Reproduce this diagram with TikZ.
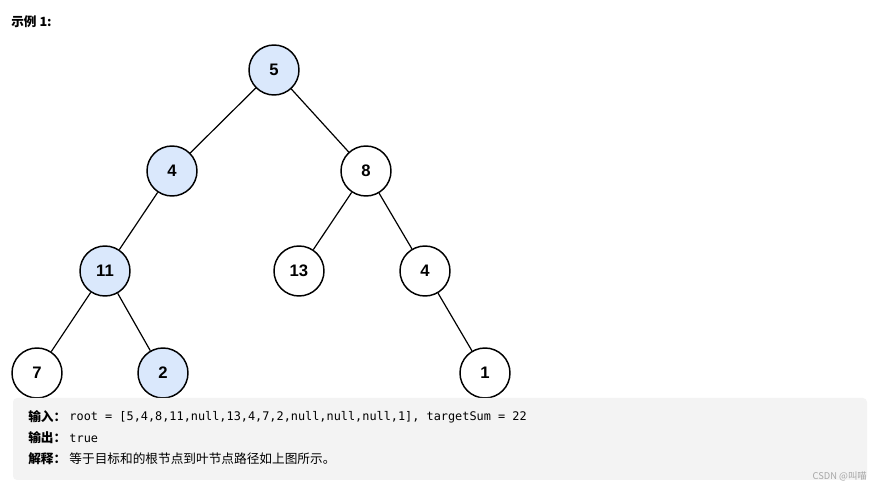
\documentclass[tikz,border=0pt]{standalone}
\usepackage{fontspec}
\setmainfont{Liberation Sans}
\setmonofont{DejaVu Sans Mono}
\newfontfamily\cjk{Noto Sans CJK SC}
\begin{document}
\begin{tikzpicture}[x=0.75pt,y=-0.75pt,
  tn/.style={circle,draw=black,line width=1.1pt,minimum size=37.5pt,inner sep=0pt,font=\bfseries\fontsize{12.5}{14}\selectfont,fill=white},
  hl/.style={tn,fill={rgb,255:red,218;green,232;blue,252}},
  ed/.style={line width=0.9pt},
  lab/.style={anchor=west,inner sep=0pt,font=\cjk\bfseries\fontsize{9.5}{11}\selectfont},
  code/.style={anchor=west,inner sep=0pt,font=\ttfamily\fontsize{8.9}{10}\selectfont}]
\useasboundingbox (0,0) rectangle (886,491);
\node[anchor=west,inner sep=0pt,font=\cjk\bfseries\fontsize{9.5}{11}\selectfont] (t) at (11,22) {示例 1:};
\node[hl] (a) at (274,70) {5};
\node[hl] (b) at (172,171) {4};
\node[tn] (c) at (366,171) {8};
\node[hl] (d) at (105,271) {11};
\node[tn] (e) at (299,271) {13};
\node[tn] (f) at (425,271) {4};
\node[tn] (g) at (37,373) {7};
\node[hl] (h) at (163,373) {2};
\node[tn] (i) at (485,373) {1};
\foreach \u/\v in {a/b,a/c,b/d,c/e,c/f,d/g,d/h,f/i} \draw[ed] (\u) -- (\v);
\fill[rounded corners=3pt,fill={rgb,255:red,243;green,243;blue,243}] (13,398) rectangle (867,480);
\node[lab] (l1) at (28,417) {输入：};
\node[code] (c1) at ([xshift=2pt]l1.east) {root = [5,4,8,11,null,13,4,7,2,null,null,null,1], targetSum = 22};
\node[lab] (l2) at (28,438) {输出：};
\node[code] (c2) at ([xshift=2pt]l2.east) {true};
\node[lab] (l3) at (28,459) {解释：};
\node[anchor=west,inner sep=0pt,font=\cjk\fontsize{9.5}{11}\selectfont] (c3) at ([xshift=2pt]l3.east) {等于目标和的根节点到叶节点路径如上图所示。};
\node[anchor=east,inner sep=0pt,text=gray!70,font=\cjk\fontsize{7}{8}\selectfont] (w) at (867,476) {CSDN @叫喵};
\end{tikzpicture}
\end{document}
